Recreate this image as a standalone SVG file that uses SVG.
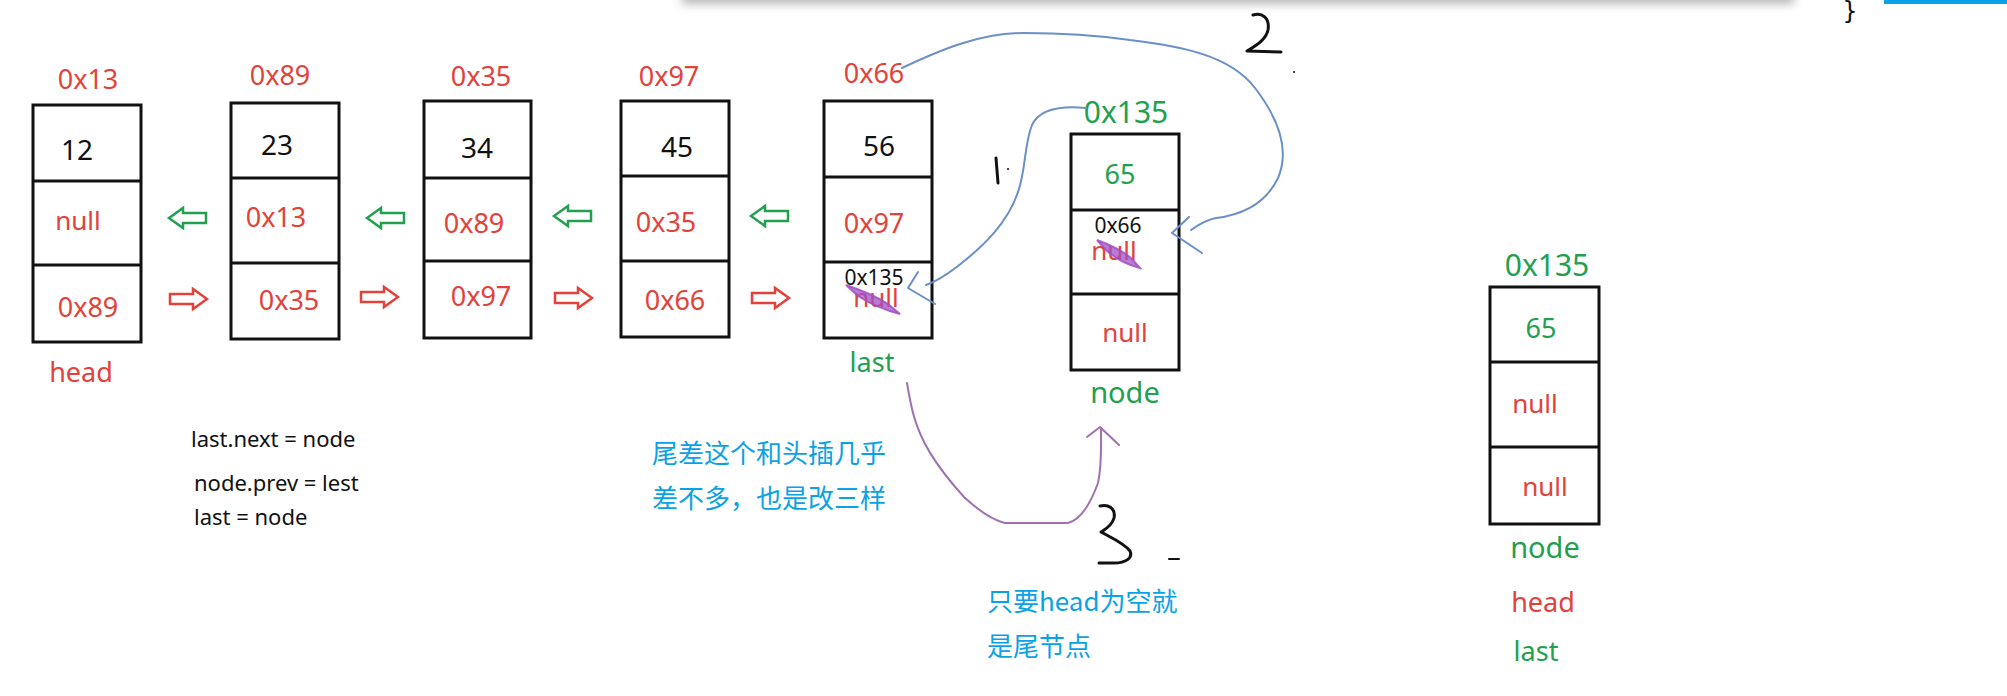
<svg xmlns="http://www.w3.org/2000/svg" width="2007" height="696" viewBox="0 0 2007 696">
<style>
  text { font-family: "Noto Sans", "Open Sans", "Noto Sans CJK SC", sans-serif; }
  .cell { fill: none; stroke: #111; stroke-width: 3; }
  .r { fill: #e2423a; font-size: 27px; text-anchor: middle; }
  .g { fill: #23a04f; font-size: 27px; text-anchor: middle; }
  .k { fill: #111; font-size: 28px; text-anchor: middle; }
  .ks { fill: #111; font-size: 21px; text-anchor: middle; }
  .nl { font-size: 26px; }
  .big { font-size: 30px; }
  .code { fill: #111; font-size: 22px; }
  .cn { fill: #0aa2e6; font-size: 26px; font-family: "Noto Sans CJK SC", "Noto Sans", sans-serif; }
  .blue { fill: none; stroke: #6a8fc9; stroke-width: 2; stroke-linecap: round; stroke-linejoin: round; }
  .purple { fill: none; stroke: #a070b2; stroke-width: 2; stroke-linecap: round; stroke-linejoin: round; }
  .hand { fill: none; stroke: #111; stroke-width: 3; stroke-linecap: round; stroke-linejoin: round; }
  .strike { fill: #a24fc4; fill-opacity: 0.75; stroke: #a24fc4; stroke-width: 2; stroke-opacity: 0.85; }
  .ga { fill: none; stroke: #23a04f; stroke-width: 2.5; stroke-linejoin: miter; }
  .ra { fill: none; stroke: #e2423a; stroke-width: 2.5; stroke-linejoin: miter; }
</style>
<defs>
  <path id="larrow" d="M0,0 L14,-10 L14,-5 L37,-5 L37,5 L14,5 L14,10 Z"/>
  <path id="rarrow" d="M0,0 L-14,-10 L-14,-5 L-37,-5 L-37,5 L-14,5 L-14,10 Z"/>
  <filter id="blur" x="-10%" y="-200%" width="120%" height="500%">
    <feGaussianBlur stdDeviation="5"/>
  </filter>
</defs>
<rect width="2007" height="696" fill="#ffffff"/>

<!-- top window edge and editor fragments -->
<g id="topbar">
  <rect x="682" y="-22" width="1112" height="26" fill="#b8b8b8" filter="url(#blur)"/>
  <rect x="1884" y="0" width="123" height="4" fill="#0aa2e6"/>
  <text x="1850" y="19" style="font-family: 'DejaVu Sans Mono', monospace; font-size: 24px; fill: #111; text-anchor: middle;">}</text>
</g>

<g id="node1">
  <rect class="cell" x="33" y="105" width="108" height="237"/>
  <line class="cell" x1="33" y1="181" x2="141" y2="181"/>
  <line class="cell" x1="33" y1="265" x2="141" y2="265"/>
  <text class="r" x="88" y="89">0x13</text>
  <text class="k" x="77" y="160">12</text>
  <text class="r nl" x="78" y="230">null</text>
  <text class="r" x="88" y="317">0x89</text>
  <text class="r" x="81" y="382">head</text>
</g>

<g id="node2">
  <rect class="cell" x="231" y="103" width="108" height="236"/>
  <line class="cell" x1="231" y1="178" x2="339" y2="178"/>
  <line class="cell" x1="231" y1="263" x2="339" y2="263"/>
  <text class="r" x="280" y="85">0x89</text>
  <text class="k" x="277" y="155">23</text>
  <text class="r" x="276" y="227">0x13</text>
  <text class="r" x="289" y="310">0x35</text>
</g>

<g id="node3">
  <rect class="cell" x="424" y="101" width="107" height="237"/>
  <line class="cell" x1="424" y1="178" x2="531" y2="178"/>
  <line class="cell" x1="424" y1="261" x2="531" y2="261"/>
  <text class="r" x="481" y="86">0x35</text>
  <text class="k" x="477" y="158">34</text>
  <text class="r" x="474" y="233">0x89</text>
  <text class="r" x="481" y="306">0x97</text>
</g>

<g id="node4">
  <rect class="cell" x="621" y="101" width="108" height="236"/>
  <line class="cell" x1="621" y1="176" x2="729" y2="176"/>
  <line class="cell" x1="621" y1="261" x2="729" y2="261"/>
  <text class="r" x="669" y="86">0x97</text>
  <text class="k" x="677" y="157">45</text>
  <text class="r" x="666" y="232">0x35</text>
  <text class="r" x="675" y="310">0x66</text>
</g>

<g id="node5">
  <rect class="cell" x="824" y="101" width="108" height="237"/>
  <line class="cell" x1="824" y1="177" x2="932" y2="177"/>
  <line class="cell" x1="824" y1="262" x2="932" y2="262"/>
  <text class="r" x="874" y="83">0x66</text>
  <text class="k" x="879" y="156">56</text>
  <text class="r" x="874" y="233">0x97</text>
  <text class="r nl" x="876" y="307">null</text>
  <path class="strike" d="M846,285 C858,289 874,295 888,304 L900,314 C888,311 872,305 858,296 Z"/>
  <text class="ks" x="874" y="285">0x135</text>
  <text class="g" x="872" y="372">last</text>
</g>

<g id="newnode">
  <rect class="cell" x="1071" y="134" width="108" height="236"/>
  <line class="cell" x1="1071" y1="210" x2="1179" y2="210"/>
  <line class="cell" x1="1071" y1="294" x2="1179" y2="294"/>
  <text class="g big" x="1126" y="123">0x135</text>
  <text class="g" x="1120" y="184">65</text>
  <text class="r nl" x="1114" y="260">null</text>
  <path class="strike" d="M1097,240 C1108,244 1122,250 1132,259 L1140,268 C1128,265 1114,258 1104,248 Z"/>
  <text class="ks" x="1118" y="233">0x66</text>
  <text class="r nl" x="1125" y="342">null</text>
  <text class="g" x="1125" y="403" style="font-size:29px">node</text>
</g>

<g id="singlenode">
  <rect class="cell" x="1490" y="287" width="109" height="237"/>
  <line class="cell" x1="1490" y1="362" x2="1599" y2="362"/>
  <line class="cell" x1="1490" y1="447" x2="1599" y2="447"/>
  <text class="g big" x="1547" y="276">0x135</text>
  <text class="g" x="1541" y="338">65</text>
  <text class="r nl" x="1535" y="413">null</text>
  <text class="r nl" x="1545" y="496">null</text>
  <text class="g" x="1545" y="558" style="font-size:29px">node</text>
  <text class="r" x="1543" y="612">head</text>
  <text class="g" x="1536" y="661">last</text>
</g>

<g id="connectors">
  <use href="#larrow" class="ga" x="169" y="218"/>
  <use href="#larrow" class="ga" x="367" y="218"/>
  <use href="#larrow" class="ga" x="554" y="216"/>
  <use href="#larrow" class="ga" x="751" y="216"/>
  <use href="#rarrow" class="ra" x="207" y="299"/>
  <use href="#rarrow" class="ra" x="398" y="297"/>
  <use href="#rarrow" class="ra" x="592" y="298"/>
  <use href="#rarrow" class="ra" x="789" y="298"/>

  <!-- step 1: last.next = node -->
  <path class="blue" d="M1086,108 C1065,106 1040,108 1032,125 C1024,145 1026,170 1018,192 C1008,222 985,245 958,266 C945,276 935,282 926,285"/>
  <polyline class="blue" points="918,272 908,288 935,304"/>
  <!-- step 2: node.prev = last -->
  <path class="blue" d="M902,68 C940,50 980,33 1024,33 C1060,33 1095,35 1130,40 C1180,46 1230,55 1255,88 C1278,118 1290,150 1278,178 C1265,205 1240,215 1216,218 C1205,220 1197,226 1191,230"/>
  <polyline class="blue" points="1189,217 1172,233 1202,253"/>
  <!-- step 3: last = node -->
  <path class="purple" d="M907,383 C909,395 911,405 913,413 C920,440 935,465 964,497 C978,510 992,520 1005,523 L1068,523 C1080,520 1090,505 1098,483 C1102,465 1101,445 1101,428"/>
  <polyline class="purple" points="1087,437 1100,427 1119,445"/>
</g>

<g id="handwriting">
  <path class="hand" d="M1253,15 C1262,12 1270,18 1268,30 C1266,40 1255,46 1247,51 L1281,52"/>
  <circle cx="1294" cy="72" r="1" fill="#111"/>
  <line class="hand" x1="996" y1="158" x2="998" y2="183"/>
  <circle cx="1008" cy="169" r="1" fill="#111"/>
  <path class="hand" d="M1100,506 C1108,504 1116,508 1114,518 C1112,526 1104,530 1101,532 C1110,537 1124,543 1130,551 C1133,558 1126,563 1114,563 C1108,563 1103,563 1099,563"/>
  <line class="hand" x1="1169" y1="559" x2="1179" y2="559" style="stroke-width:2"/>
</g>

<g id="notes">
  <text class="code" x="191" y="447">last.next = node</text>
  <text class="code" x="194" y="491">node.prev = lest</text>
  <text class="code" x="194" y="525">last = node</text>
  <text class="cn" x="652" y="463">尾差这个和头插几乎</text>
  <text class="cn" x="652" y="508">差不多，也是改三样</text>
  <text class="cn" x="987" y="611">只要head为空就</text>
  <text class="cn" x="987" y="656">是尾节点</text>
</g>
</svg>
